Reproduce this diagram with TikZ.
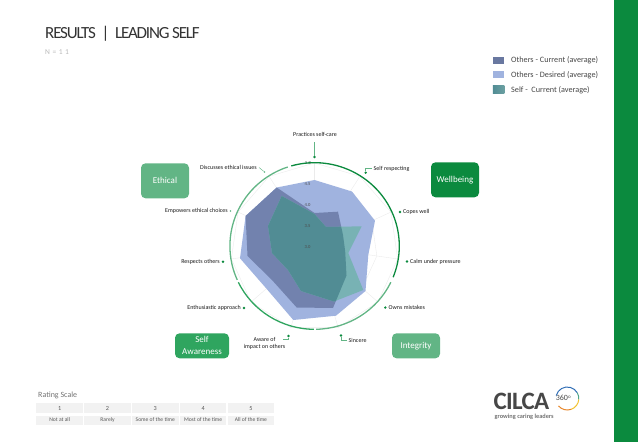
\documentclass[tikz,border=0pt]{standalone}
\usepackage{fontspec}
\setmainfont{Carlito}
\newfontfamily\titlefont[LetterSpace=-7]{Carlito}
\newfontfamily\logofont[LetterSpace=-3]{Carlito}
\usetikzlibrary{calc}
\definecolor{gDark}{HTML}{0B8A3E}
\definecolor{gMid}{HTML}{2FA55F}
\definecolor{gSoft}{HTML}{62B585}
\definecolor{pLight}{HTML}{A0B3DF}
\definecolor{pDark}{HTML}{7282AE}
\definecolor{tLight}{HTML}{78B2B4}
\definecolor{tDark}{HTML}{518C94}
\definecolor{gridc}{HTML}{EBEBEB}
\definecolor{rBlue}{HTML}{2F6DB5}
\definecolor{rTeal}{HTML}{4FA58A}
\definecolor{rYellow}{HTML}{F2C230}
\definecolor{rOrange}{HTML}{E8872B}
\tikzset{
  lab/.style={font=\fontsize{6}{7}\selectfont, text=black!90, inner sep=0pt},
  tick/.style={font=\fontsize{4.6}{5}\selectfont, text=black!70, inner sep=0pt},
  mark dot/.style={circle, fill=gDark, inner sep=0pt, minimum size=2.6pt},
  lead/.style={draw=gSoft, line width=.45pt},
  pillar/.style={rounded corners=4.5pt, text=white, align=center, font=\fontsize{9}{12}\selectfont, inner sep=0pt},
  ring/.style={line width=1.3pt},
  legtxt/.style={font=\fontsize{8.2}{9}\selectfont, text=black!72, inner sep=0pt, anchor=west},
  legsw/.style={minimum width=11.5pt, minimum height=7.5pt, inner sep=0pt},
  cellbox/.style={fill=black!5, minimum width=46.6pt, inner sep=0pt, text=black!65},
  hcell/.style={cellbox, minimum height=10pt, font=\fontsize{6.2}{7}\selectfont},
  vcell/.style={cellbox, minimum height=9.6pt, text height=3.8pt, text depth=1.2pt, font=\fontsize{5.6}{7}\selectfont},
}
\def\polyLight{(314.5,180)--(352,191.5)--(375,220.7)--(368.3,255)--(365.5,291)--(336,315.7)--(293.3,320)--(265,287)--(240,258.3)--(245.6,216)--(276.7,187.5)--cycle}
\def\polyDark{(314.5,213)--(338,211.7)--(343,235)--(345.2,251.4)--(346.5,275.5)--(333,308)--(296.7,307.5)--(272,280)--(247.5,256)--(245.6,216)--(276.7,187.5)--cycle}
\def\polyTeal{(314.5,214)--(326,227)--(361.7,226.3)--(348.3,253)--(363.3,290)--(334,301.5)--(301,291)--(288,270)--(272,253)--(268,226)--(281.7,196)--cycle}
\begin{document}
\begin{tikzpicture}[x=1pt,y=-1pt]
\useasboundingbox (0,0) rectangle (638,442);
\fill[gDark] (614,0) rectangle (638,442);
% title
\node[anchor=west, inner sep=0pt, text=black!80, font=\titlefont\fontsize{17}{20}\selectfont] (title) at (45,34) {RESULTS\,\,|\,\,LEADING SELF};
\node[anchor=west, inner sep=0pt, text=black!28, font=\fontsize{7.5}{9}\selectfont] (n) at (45,52) {N\,\,=\,\,1\,\,1};
% legend
\node[legsw, fill=pDark!92!black] (s1) at (498.7,60.4) {};
\node[legsw, fill=pLight] (s2) at (498.7,74.7) {};
\node[legsw, left color=tDark, right color=tLight!90!black] (s3) at (498.7,89.7) {};
\node[legtxt] (l1) at (511,60.5) {Others - Current (average)};
\node[legtxt] (l2) at (511,75) {Others - Desired (average)};
\node[legtxt] (l3) at (511,90) {Self -\ \ Current (average)};
% radar grid
\coordinate (c) at (314.5,247);
\foreach \r in {21,42,63,84}{
  \draw[gridc, line width=.4pt] ($(c)+(-90:\r)$)
    \foreach \k in {1,...,10}{ -- ($(c)+({-90+\k*360/11}:\r)$) } -- cycle;
}
\foreach \k in {0,...,10}{ \draw[gridc, line width=.4pt] (c) -- ($(c)+({-90+\k*360/11}:84)$); }
% radar polygons
\fill[pLight] \polyLight;
\fill[pDark] \polyDark;
\fill[tLight] \polyTeal;
\begin{scope}
  \clip \polyDark;
  \fill[tDark] \polyTeal;
\end{scope}
% tick labels
\node[tick] (t5) at (308,162.7) {5.0};
\node[tick] (t45) at (307.5,184) {4.5};
\node[tick] (t40) at (307.5,205.3) {4.0};
\node[tick] (t35) at (307.5,226.3) {3.5};
\node[tick] (t30) at (307.5,247.5) {3.0};
% outer ring
\coordinate (o) at (314.6,246);
\draw[ring, gDark] ($(o)+(-106:84.7 and 83.3)$) arc[start angle=-106, end angle=22, x radius=84.7, y radius=83.3];
\draw[ring, gSoft] ($(o)+(25.8:84.7 and 83.3)$) arc[start angle=25.8, end angle=89, x radius=84.7, y radius=83.3];
\draw[ring, gMid] ($(o)+(90.5:84.7 and 83.3)$) arc[start angle=90.5, end angle=154.2, x radius=84.7, y radius=83.3];
\draw[ring, gSoft] ($(o)+(156:84.7 and 83.3)$) arc[start angle=156, end angle=251.5, x radius=84.7, y radius=83.3];
% pillars
\node[pillar, fill=gSoft, minimum width=48pt, minimum height=35pt] (ethical) at (165,180.8) {Ethical};
\node[pillar, fill=gDark, minimum width=48pt, minimum height=35pt] (wellbeing) at (455,179.8) {Wellbeing};
\node[pillar, fill=gMid, minimum width=54pt, minimum height=25pt] (selfaw) at (202,345.8) {Self\\Awareness};
\node[pillar, fill=gSoft, minimum width=48pt, minimum height=25pt] (integrity) at (416,345.8) {Integrity};
% item labels
\node[lab] (practices) at (315,134) {Practices self-care};
\node[mark dot] (dpractices) at (314.5,157) {};
\coordinate (pstart) at (314.5,142);
\draw[lead] (pstart) -- (dpractices);
\node[lab, anchor=west] (respecting) at (373.5,168.7) {Self respecting};
\node[mark dot] (drespecting) at (365.7,172.7) {};
\coordinate (rstart) at (372,168.7);
\draw[lead] (rstart) -| (drespecting);
\node[lab, anchor=west] (copes) at (403,212) {Copes well};
\node[mark dot] (dcopes) at (400,212) {};
\node[lab, anchor=west] (calm) at (410,261.5) {Calm under pressure};
\node[mark dot] (dcalm) at (407,261.5) {};
\node[lab, anchor=west] (owns) at (388.5,307.5) {Owns mistakes};
\node[mark dot] (downs) at (385.3,307.5) {};
\node[lab, anchor=west] (sincere) at (348.5,340.3) {Sincere};
\node[mark dot] (dsincere) at (341,335.5) {};
\coordinate (sstart) at (347,340.3);
\draw[lead] (sstart) -| (dsincere);
\node[lab, align=center] (aware) at (264.5,343.7) {Aware of\\impact on others};
\node[mark dot] (daware) at (288.5,336) {};
\coordinate (awareend) at (283,339.5);
\draw[lead] (awareend) -| (daware);
\node[lab, anchor=east] (enth) at (241,308) {Enthusiastic approach};
\node[mark dot] (denth) at (244,308) {};
\node[lab, anchor=east] (respects) at (220,261.7) {Respects others};
\node[mark dot] (drespects) at (223,261.7) {};
\node[lab, anchor=east] (empowers) at (228,211) {Empowers ethical choices};
\node[mark dot, minimum size=1.8pt, fill=gSoft] (dempowers) at (230.5,211) {};
\node[lab, anchor=east] (discusses) at (257,167.5) {Discusses ethical issues};
\node[mark dot, fill=gSoft, minimum size=1.8pt] (ddiscusses) at (264.5,172) {};
\coordinate (dstart) at (259,167.5);
\draw[lead] (dstart) -- (ddiscusses);
% rating scale
\node[anchor=west, inner sep=0pt, text=black!55, font=\fontsize{8}{9}\selectfont] (rs) at (38,395.5) {Rating Scale};
\foreach \i/\x/\a/\b in {1/59.7/1/Not at all,2/107.5/2/Rarely,3/155.3/3/Some of the time,4/203.1/4/Most of the time,5/250.9/5/All of the time}{
  \node[hcell] (h\i) at (\x,408.3) {\a};
  \node[vcell] (v\i) at (\x,420.4) {\b};
}
% logo
\node[anchor=west, inner sep=0pt, text height=17pt, text depth=0pt, text=black!72, font=\logofont\fontsize{25}{25}\selectfont\bfseries] (cilca) at (493.5,401) {CILCA};
\node[inner sep=0pt, text=black!72, font=\fontsize{8}{9}\selectfont] (three) at (563.5,398.3) {360\textsuperscript{\tiny o}};
\coordinate (rc) at (567.3,398.5);
\draw[line width=1pt, rBlue] ($(rc)+(-165:11.5)$) arc[start angle=-165, end angle=-30, radius=11.5];
\draw[line width=1pt, rTeal] ($(rc)+(-30:11.5)$) arc[start angle=-30, end angle=5, radius=11.5];
\draw[line width=1pt, rYellow] ($(rc)+(5:11.5)$) arc[start angle=5, end angle=70, radius=11.5];
\draw[line width=1pt, rOrange] ($(rc)+(70:11.5)$) arc[start angle=70, end angle=140, radius=11.5];
\node[anchor=west, inner sep=0pt, text=black!55, font=\fontsize{6.3}{7}\selectfont\bfseries] (tag) at (494.5,417) {growing caring leaders};
\end{tikzpicture}
\end{document}
